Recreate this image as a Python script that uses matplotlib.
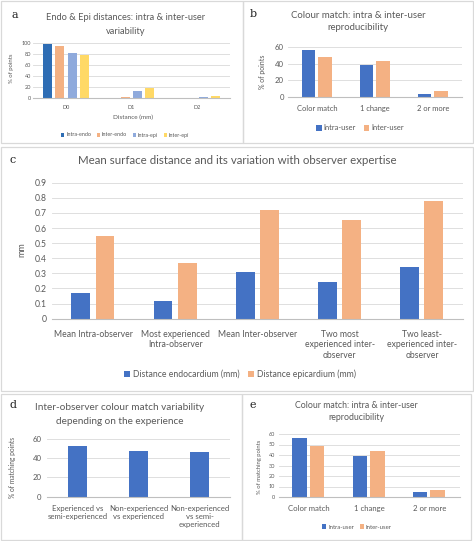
import matplotlib
matplotlib.use('Agg')
import matplotlib.pyplot as plt
import numpy as np
from matplotlib.patches import Rectangle, Patch

W, H = 474, 541
plt.rcParams['font.family'] = ['Lato', 'DejaVu Sans']
TXT = '#595959'

# ---------------- data ----------------
a_cats = ['D0', 'D1', 'D2']
a_series = ['Intra-endo', 'Inter-endo', 'Intra-epi', 'Inter-epi']
a_intra_endo = [98, 0, 0]
a_inter_endo = [95, 1.5, 0.5]
a_intra_epi = [82, 12, 1.5]
a_inter_epi = [78, 18, 3.5]
a_yticks = [0, 20, 40, 60, 80, 100]

b_cats = ['Color match', '1 change', '2 or more']
b_series = ['Intra-user', 'Inter-user']
b_intra = [56, 39, 4]
b_inter = [48, 43, 7]
b_yticks = [0, 20, 40, 60]

c_cats = ['Mean Intra-observer', 'Most experienced\nIntra-observer', 'Mean Inter-observer',
          'Two most\nexperienced inter-\nobserver', 'Two least-\nexperienced inter-\nobserver']
c_series = ['Distance endocardium (mm)', 'Distance epicardium (mm)']
c_endo = [0.17, 0.12, 0.31, 0.24, 0.34]
c_epi = [0.55, 0.37, 0.72, 0.65, 0.78]
c_yticks = [0, 0.1, 0.2, 0.3, 0.4, 0.5, 0.6, 0.7, 0.8, 0.9]

d_cats = ['Experienced vs\nsemi-experienced', 'Non-experienced\nvs experienced',
          'Non-experienced\nvs semi-\nexperienced']
d_vals = [52, 47, 46.5]
d_yticks = [0, 20, 40, 60]

e_cats = ['Color match', '1 change', '2 or more']
e_series = ['Intra-user', 'Inter-user']
e_intra = [56, 39.5, 4.5]
e_inter = [49, 43.5, 7]
e_yticks = [0, 10, 20, 30, 40, 50, 60]

BLUE = '#4472C4'
ORANGE = '#F4B183'
A_COLORS = ['#2E6DB4', '#F4B183', '#8FAADC', '#FFD966']

# ---------------- helpers ----------------
fig = plt.figure(figsize=(W / 100, H / 100), dpi=100)
fig.patch.set_facecolor('white')


def box(x0, y0, x1, y1):
    return [x0 / W, 1 - y1 / H, (x1 - x0) / W, (y1 - y0) / H]


def fx(x):
    return x / W


def fy(y):
    return 1 - y / H


def style(ax, ncat, yticks, fs, pad=2):
    ax.set_xlim(-0.5, ncat - 0.5)
    ax.set_ylim(yticks[0], yticks[-1])
    ax.set_yticks(yticks)
    ax.grid(axis='y', color='#D9D9D9', lw=0.6)
    ax.set_axisbelow(True)
    for s in ['top', 'right', 'left']:
        ax.spines[s].set_visible(False)
    ax.spines['bottom'].set_color('#BFBFBF')
    ax.spines['bottom'].set_linewidth(0.8)
    ax.tick_params(length=0, labelsize=fs, colors=TXT, pad=pad)
    ax.set_facecolor('none')


def frame(x0, y0, x1, y1):
    fig.patches.append(Rectangle((fx(x0), fy(y1)), (x1 - x0) / W, (y1 - y0) / H,
                                 transform=fig.transFigure, fill=False,
                                 edgecolor='#D9D9D9', lw=0.9))


def legend(handles_labels, cx, cy, fs, ncol):
    handles = [Patch(facecolor=c, edgecolor='none') for c, _ in handles_labels]
    labels = [l for _, l in handles_labels]
    fig.legend(handles, labels, loc='center', bbox_to_anchor=(fx(cx), fy(cy)),
               ncol=ncol, frameon=False, fontsize=fs, handlelength=0.7,
               handleheight=0.7, handletextpad=0.3, columnspacing=1.0,
               labelcolor=TXT, borderaxespad=0, borderpad=0)


def panel_label(t, x, y):
    fig.text(fx(x), fy(y), t, ha='center', va='center', fontsize=8,
             family='DejaVu Serif', color='#222222')


# frames
frame(1, 1, 243, 143)
frame(243, 1, 473, 143)
frame(1, 147, 473, 391)
frame(1, 394, 242, 540)
frame(242, 394, 471, 540)

# ---------------- panel a ----------------
ax = fig.add_axes(box(33, 43, 230, 98))
x = np.arange(len(a_cats))
w = 0.135
offs = [-0.28, -0.095, 0.095, 0.28]
for vals, off, col, lab in zip([a_intra_endo, a_inter_endo, a_intra_epi, a_inter_epi],
                               offs, A_COLORS, a_series):
    ax.bar(x + off, vals, w, color=col, label=lab)
style(ax, 3, a_yticks, 4, pad=1.5)
ax.set_xticks(x, a_cats)
ax.tick_params(axis='x', pad=5)
fig.text(fx(12), fy(68), '% of points', rotation=90, ha='center', va='center',
         fontsize=4.3, color=TXT)
fig.text(fx(133), fy(117), 'Distance (mm)', ha='center', va='center', fontsize=4.6, color=TXT)
fig.text(fx(126), fy(17), 'Endo & Epi distances: intra & inter-user', ha='center',
         va='center', fontsize=6.7, color=TXT)
fig.text(fx(126), fy(32), 'variability', ha='center', va='center', fontsize=6.7, color=TXT)
legend(list(zip(A_COLORS, a_series)), 125, 135, 3.9, 4)
panel_label('a', 15, 15)

# ---------------- panel b ----------------
ax = fig.add_axes(box(288, 47, 462, 97))
x = np.arange(len(b_cats))
w = 0.23
ax.bar(x - 0.145, b_intra, w, color=BLUE)
ax.bar(x + 0.14, b_inter, w, color=ORANGE)
style(ax, 3, b_yticks, 5.6, pad=3)
ax.set_xticks(x, b_cats)
ax.tick_params(axis='x', labelsize=5.4, pad=6)
fig.text(fx(262), fy(72), '% of points', rotation=90, ha='center', va='center',
         fontsize=5, color=TXT)
fig.text(fx(358), fy(15), 'Colour match: intra & inter-user', ha='center', va='center',
         fontsize=6.9, color=TXT)
fig.text(fx(358), fy(28), 'reproducibility', ha='center', va='center', fontsize=6.9, color=TXT)
legend([(BLUE, b_series[0]), (ORANGE, b_series[1])], 360, 128, 5.4, 2)
panel_label('b', 253, 14)

# ---------------- panel c ----------------
ax = fig.add_axes(box(52, 182.7, 463, 318.7))
x = np.arange(len(c_cats))
w = 0.23
ax.bar(x - 0.15, c_endo, w, color=BLUE)
ax.bar(x + 0.145, c_epi, w, color=ORANGE)
style(ax, 5, c_yticks, 6.2, pad=4)
ax.set_yticklabels(['0'] + [f'{v:.1f}' for v in c_yticks[1:]])
ax.set_xticks(x, c_cats)
ax.tick_params(axis='x', labelsize=6.2, pad=8)
for t in ax.get_xticklabels():
    t.set_va('top')
    t.set_linespacing(1.2)
fig.text(fx(22), fy(250), 'mm', rotation=90, ha='center', va='center', fontsize=6.5, color=TXT)
fig.text(fx(237), fy(161), 'Mean surface distance and its variation with observer expertise',
         ha='center', va='center', fontsize=8.3, color=TXT)
legend([(BLUE, c_series[0]), (ORANGE, c_series[1])], 240, 374, 6.2, 2)
panel_label('c', 13, 160)

# ---------------- panel d ----------------
ax = fig.add_axes(box(47, 438.7, 230, 496.7))
x = np.arange(len(d_cats))
ax.bar(x, d_vals, 0.3, color=BLUE)
style(ax, 3, d_yticks, 5.6, pad=4)
ax.set_xticks(x, d_cats)
ax.tick_params(axis='x', labelsize=5.6, pad=6)
fig.text(fx(13), fy(467), '% of matching points', rotation=90, ha='center', va='center',
         fontsize=4.8, color=TXT)
fig.text(fx(120), fy(407), 'Inter-observer colour match variability', ha='center',
         va='center', fontsize=7.2, color=TXT)
fig.text(fx(120), fy(421), 'depending on the experience', ha='center', va='center',
         fontsize=7.2, color=TXT)
panel_label('d', 13, 405)

# ---------------- panel e ----------------
ax = fig.add_axes(box(279, 434, 460, 497))
x = np.arange(len(e_cats))
w = 0.24
ax.bar(x - 0.16, e_intra, w, color=BLUE)
ax.bar(x + 0.13, e_inter, w, color=ORANGE)
style(ax, 3, e_yticks, 4, pad=3)
ax.set_xticks(x, e_cats)
ax.tick_params(axis='x', labelsize=5.6, pad=6)
fig.text(fx(260), fy(467), '% of matching points', rotation=90, ha='center', va='center',
         fontsize=4.2, color=TXT)
fig.text(fx(356), fy(405), 'Colour match: intra & inter-user', ha='center', va='center',
         fontsize=6.3, color=TXT)
fig.text(fx(356), fy(417), 'reproducibility', ha='center', va='center', fontsize=6.3, color=TXT)
legend([(BLUE, e_series[0]), (ORANGE, e_series[1])], 357, 527, 4.3, 2)
panel_label('e', 253, 405)

fig.savefig('out.png', dpi=100, facecolor='white')
